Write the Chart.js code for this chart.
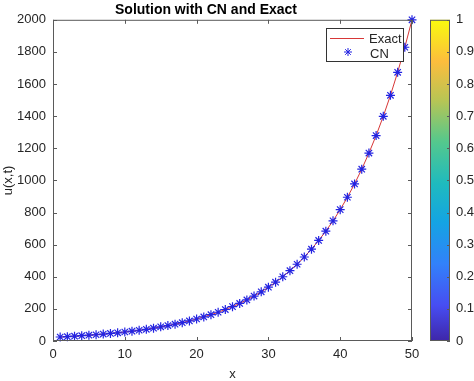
<!DOCTYPE html>
<html>
<head>
<meta charset="utf-8">
<script src="https://cdn.jsdelivr.net/npm/chart.js@4/dist/chart.umd.min.js"></script>
<style>
  html, body { margin: 0; padding: 0; background: #fff; }
</style>
</head>
<body>
<canvas id="myChart" width="474" height="381"></canvas>
<script>
const xValues = [1, 2, 3, 4, 5, 6, 7, 8, 9, 10, 11, 12, 13, 14, 15, 16, 17, 18, 19, 20,
    21, 22, 23, 24, 25, 26, 27, 28, 29, 30, 31, 32, 33, 34, 35, 36, 37, 38, 39, 40,
    41, 42, 43, 44, 45, 46, 47, 48, 49, 50];
const exactValues = [25, 27, 30, 33, 36, 39, 43, 47, 51, 56, 61, 67, 73, 80, 88, 96, 105, 114, 125, 137,
    150, 164, 179, 196, 214, 234, 256, 280, 306, 335, 366, 400, 438, 478, 523, 572, 626, 684, 748, 818,
    895, 978, 1070, 1170, 1279, 1399, 1530, 1673, 1829, 2000];
const cnValues = [25, 27, 30, 33, 36, 39, 43, 47, 51, 56, 61, 67, 73, 80, 88, 96, 105, 114, 125, 137,
    150, 164, 179, 196, 214, 234, 256, 280, 306, 335, 366, 400, 438, 478, 523, 572, 626, 684, 748, 818,
    895, 978, 1070, 1170, 1279, 1399, 1530, 1673, 1829, 2000];
const xTicks = [0, 10, 20, 30, 40, 50];
const yTicks = [0, 200, 400, 600, 800, 1000, 1200, 1400, 1600, 1800, 2000];
const colorbarTicks = [0, 0.1, 0.2, 0.3, 0.4, 0.5, 0.6, 0.7, 0.8, 0.9, 1];

const fontFamily = '"Liberation Sans", Arial, Helvetica, sans-serif';
const axisColor = '#5a5a5a';
const textColor = '#262626';

// approximate parula colormap
const parula = [
    [0.00, 'rgb(62,38,168)'],
    [0.11, 'rgb(71,77,242)'],
    [0.24, 'rgb(50,129,250)'],
    [0.37, 'rgb(20,164,227)'],
    [0.49, 'rgb(31,186,190)'],
    [0.62, 'rgb(84,200,141)'],
    [0.75, 'rgb(184,197,84)'],
    [0.87, 'rgb(252,189,61)'],
    [1.00, 'rgb(249,251,14)']
];

const matlabLook = {
    id: 'matlabLook',
    afterDraw(chart) {
        const ctx = chart.ctx;
        const area = chart.chartArea;
        const xs = chart.scales.x;
        const ys = chart.scales.y;
        ctx.save();

        // axes box + inward ticks
        ctx.strokeStyle = axisColor;
        ctx.lineWidth = 1;
        ctx.strokeRect(area.left + 0.5, area.top + 0.5, area.right - area.left - 1, area.bottom - area.top - 1);
        ctx.beginPath();
        xTicks.forEach(function(v) {
            const px = Math.round(xs.getPixelForValue(v)) + 0.5;
            ctx.moveTo(px, area.bottom);
            ctx.lineTo(px, area.bottom - 4);
            ctx.moveTo(px, area.top);
            ctx.lineTo(px, area.top + 4);
        });
        yTicks.forEach(function(v) {
            const py = Math.round(ys.getPixelForValue(v)) + 0.5;
            ctx.moveTo(area.left, py);
            ctx.lineTo(area.left + 4, py);
            ctx.moveTo(area.right, py);
            ctx.lineTo(area.right - 4, py);
        });
        ctx.stroke();

        // legend
        const lx = 326, ly = 28, lw = 77, lh = 33;
        ctx.fillStyle = '#fff';
        ctx.fillRect(lx, ly, lw, lh);
        ctx.strokeStyle = '#333';
        ctx.strokeRect(lx + 0.5, ly + 0.5, lw, lh);
        const ds = chart.data.datasets;
        ctx.strokeStyle = ds[0].borderColor;
        ctx.beginPath();
        ctx.moveTo(330, 38.5);
        ctx.lineTo(364, 38.5);
        ctx.stroke();
        ctx.strokeStyle = ds[1].borderColor;
        ctx.beginPath();
        const sx = 348, sy = 52, r = 4;
        ctx.moveTo(sx - r, sy); ctx.lineTo(sx + r, sy);
        ctx.moveTo(sx, sy - r); ctx.lineTo(sx, sy + r);
        const d = r * 0.707;
        ctx.moveTo(sx - d, sy - d); ctx.lineTo(sx + d, sy + d);
        ctx.moveTo(sx - d, sy + d); ctx.lineTo(sx + d, sy - d);
        ctx.stroke();
        ctx.fillStyle = textColor;
        ctx.font = '13px ' + fontFamily;
        ctx.textAlign = 'left';
        ctx.textBaseline = 'middle';
        ctx.fillText(ds[0].label, 369, 39);
        ctx.fillText(ds[1].label, 370, 54);

        // colorbar
        const cbL = 430, cbR = 450;
        const grad = ctx.createLinearGradient(0, area.bottom, 0, area.top);
        parula.forEach(function(s) { grad.addColorStop(s[0], s[1]); });
        ctx.fillStyle = grad;
        ctx.fillRect(cbL, area.top, cbR - cbL, area.bottom - area.top);
        ctx.strokeStyle = axisColor;
        ctx.strokeRect(cbL + 0.5, area.top + 0.5, cbR - cbL - 1, area.bottom - area.top - 1);
        ctx.fillStyle = textColor;
        ctx.beginPath();
        colorbarTicks.forEach(function(v) {
            const py = area.bottom - v * (area.bottom - area.top);
            ctx.moveTo(cbR - 3, Math.round(py) + 0.5);
            ctx.lineTo(cbR, Math.round(py) + 0.5);
            ctx.fillText(String(v), 456, py);
        });
        ctx.stroke();
        ctx.restore();
    }
};

const ctx = document.getElementById('myChart');

new Chart(ctx, {
    type: 'scatter',
    data: {
        datasets: [{
            label: 'Exact',
            data: xValues.map((x, i) => ({ x: x, y: exactValues[i] })),
            showLine: true,
            borderColor: 'rgb(215,55,55)',
            borderWidth: 1,
            pointRadius: 0,
            tension: 0,
            order: 2
        }, {
            label: 'CN',
            data: xValues.map((x, i) => ({ x: x, y: cnValues[i] })),
            showLine: false,
            pointStyle: 'star',
            pointRadius: 4.5,
            borderColor: 'rgb(35,35,225)',
            backgroundColor: 'rgb(35,35,225)',
            borderWidth: 1.2,
            clip: false,
            order: 1
        }]
    },
    options: {
        responsive: false,
        animation: false,
        devicePixelRatio: 1,
        layout: {
            padding: { left: 0, right: 62, top: 0, bottom: 0 }
        },
        scales: {
            x: {
                min: 0,
                max: 50,
                afterFit: function(scale) { scale.height = 40; },
                grid: { display: false, drawTicks: false },
                border: { display: false },
                ticks: {
                    stepSize: 10,
                    padding: 6,
                    color: textColor,
                    font: { size: 13, family: fontFamily },
                    callback: function(value) { return String(value); }
                },
                title: {
                    display: true,
                    text: 'x',
                    color: textColor,
                    padding: 0,
                    font: { size: 13, family: fontFamily, lineHeight: 1 }
                }
            },
            y: {
                min: 0,
                max: 2000,
                afterFit: function(scale) { scale.width = 53; },
                grid: { display: false, drawTicks: false },
                border: { display: false },
                ticks: {
                    stepSize: 200,
                    padding: 7,
                    color: textColor,
                    font: { size: 13, family: fontFamily },
                    callback: function(value) { return String(value); }
                },
                title: {
                    display: true,
                    text: 'u(x,t)',
                    color: textColor,
                    padding: { top: 2, bottom: 0 },
                    font: { size: 13, family: fontFamily, lineHeight: 1 }
                }
            }
        },
        plugins: {
            legend: { display: false },
            title: {
                display: true,
                text: 'Solution with CN and Exact',
                color: '#000',
                padding: { top: 2, bottom: 1 },
                font: { size: 14, weight: 'bold', family: fontFamily }
            }
        }
    },
    plugins: [matlabLook]
});
</script>
</body>
</html>
